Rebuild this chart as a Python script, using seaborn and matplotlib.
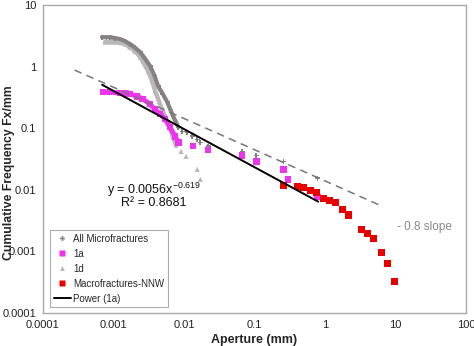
import matplotlib
matplotlib.use("Agg")
import matplotlib.pyplot as plt
import seaborn as sns
import numpy as np
import pandas as pd
from matplotlib.lines import Line2D
from matplotlib.ticker import FuncFormatter, LogLocator, NullFormatter

# ---- data ----
all_x = [0.00069, 0.0008, 0.0009, 0.00105, 0.00124, 0.00145, 0.00172, 0.002, 0.00239, 0.0028,
         0.00331, 0.0038, 0.0043, 0.005, 0.0058, 0.0064, 0.0070, 0.0077, 0.0083,
         0.0094, 0.0111, 0.0131, 0.0154, 0.017, 0.022, 0.067, 0.106, 0.257, 0.78]
all_y = [3.0, 3.0, 3.0, 2.9, 2.8, 2.6, 2.32, 2.05, 1.72, 1.35,
         1.02, 0.72, 0.48, 0.36, 0.265, 0.2, 0.157, 0.125, 0.104,
         0.089, 0.086, 0.074, 0.066, 0.059, 0.051, 0.042, 0.036, 0.029, 0.0154]

d_x = [0.00076, 0.0009, 0.00105, 0.00124, 0.0015, 0.0017, 0.002, 0.0024, 0.0031, 0.0035,
       0.0039, 0.0049, 0.006, 0.007, 0.0077, 0.0091, 0.0107, 0.0154, 0.017]
d_y = [2.5, 2.5, 2.5, 2.45, 2.3, 2.07, 1.8, 1.43, 0.85, 0.6,
       0.40, 0.20, 0.116, 0.071, 0.053, 0.042, 0.035, 0.0215, 0.0148]

a_x = [0.00071, 0.00089, 0.00124, 0.0015, 0.0017, 0.00216, 0.0026, 0.0033, 0.0039, 0.0046,
       0.0054, 0.0063, 0.0075, 0.0083, 0.0135, 0.022, 0.067, 0.106, 0.257, 0.3, 0.78]
a_y = [0.385, 0.385, 0.37, 0.365, 0.36, 0.33, 0.30, 0.245, 0.20, 0.17,
       0.14, 0.105, 0.074, 0.059, 0.051, 0.044, 0.036, 0.029, 0.0215, 0.0148, 0.0076]

r_x = [0.257, 0.405, 0.49, 0.62, 0.755, 0.95, 1.16, 1.41, 1.77, 2.15,
       3.29, 4.0, 4.87, 6.3, 7.7, 9.7]
r_y = [0.0118, 0.0114, 0.011, 0.0098, 0.0091, 0.0073, 0.0068, 0.0063, 0.0048, 0.0039,
       0.0023, 0.00196, 0.00162, 0.00096, 0.00064, 0.00033]

fit_a = 0.0056
fit_b = -0.619
fit_x = [0.00069, 0.8]

slope_x = [0.00028, 6.5]
slope_y = [0.88, 0.0054]

x_ticks = [0.0001, 0.001, 0.01, 0.1, 1, 10, 100]
y_ticks = [0.0001, 0.001, 0.01, 0.1, 1, 10]

# ---- style ----
sns.set_style("white")
plt.rcParams["font.family"] = ["Liberation Sans", "DejaVu Sans"]
plt.rcParams["mathtext.default"] = "regular"

fig = plt.figure(figsize=(4.74, 3.46), dpi=100)
ax = fig.add_axes([0.0907, 0.0954, 0.8924, 0.8901])

c_all = "#868282"
c_d = "#b8b8b8"
c_a = "#ee33ee"
c_r = "#e80000"

df_all = pd.DataFrame({"x": all_x, "y": all_y})
df_d = pd.DataFrame({"x": d_x, "y": d_y})
df_a = pd.DataFrame({"x": a_x, "y": a_y})
df_r = pd.DataFrame({"x": r_x, "y": r_y})

n_dense_all = 19
n_dense_d = 15
n_dense_a = 14

# dense portions look like thick curves
sns.lineplot(data=df_d.iloc[:n_dense_d], x="x", y="y", ax=ax, color=c_d, lw=3.2, sort=False, zorder=2)
sns.lineplot(data=df_all.iloc[:n_dense_all], x="x", y="y", ax=ax, color=c_all, lw=3.0, sort=False, zorder=3)
sns.lineplot(data=df_a.iloc[:n_dense_a], x="x", y="y", ax=ax, color=c_a, lw=3.5, sort=False, zorder=4)

sns.scatterplot(data=df_d, x="x", y="y", ax=ax, marker="^", s=14, color=c_d, edgecolor="none", zorder=2)
sns.scatterplot(data=df_all, x="x", y="y", ax=ax, marker="P", s=12, color=c_all, edgecolor="none", zorder=3)
sns.scatterplot(data=df_a, x="x", y="y", ax=ax, marker="s", s=22, color=c_a, edgecolor="none", zorder=4)
sns.scatterplot(data=df_r, x="x", y="y", ax=ax, marker="s", s=26, color=c_r, edgecolor="none", zorder=5)

# power fit line
fx = np.array(fit_x)
ax.plot(fx, fit_a * fx ** fit_b, color="black", lw=1.4, zorder=6)
# slope reference line
ax.plot(slope_x, slope_y, color="#777777", lw=1.1, ls=(0, (5, 3.5)), zorder=6)

ax.set_xscale("log")
ax.set_yscale("log")
ax.set_xlim(0.0001, 100)
ax.set_ylim(0.0001, 10)
ax.set_xticks(x_ticks)
ax.set_yticks(y_ticks)
fmt = FuncFormatter(lambda v, p: "{:g}".format(v))
ax.xaxis.set_major_formatter(fmt)
ax.yaxis.set_major_formatter(fmt)
ax.xaxis.set_minor_locator(LogLocator(base=10, subs=np.arange(2, 10)))
ax.yaxis.set_minor_locator(LogLocator(base=10, subs=np.arange(2, 10)))
ax.xaxis.set_minor_formatter(NullFormatter())
ax.yaxis.set_minor_formatter(NullFormatter())
ax.tick_params(which="major", direction="out", length=3, width=0.8, color="#999999",
               labelsize=8, labelcolor="#222222", pad=2)
ax.tick_params(which="minor", direction="in", length=2.5, width=0.6, color="#999999")
for s in ax.spines.values():
    s.set_color("#aaaaaa")
    s.set_linewidth(1.0)

ax.set_xlabel("Aperture (mm)", fontsize=9, fontweight="bold", labelpad=3)
ax.set_ylabel("Cumulative Frequency Fx/mm", fontsize=8.8, fontweight="bold")
ax.yaxis.label.set_va("center")
ax.yaxis.set_label_coords(-0.0795, 0.455)

ax.text(0.0037, 0.0098, "y = 0.0056x$^{-0.619}$", fontsize=9, ha="center", va="center", color="#111111")
ax.text(0.0037, 0.006, "R² = 0.8681", fontsize=9, ha="center", va="center", color="#111111")
ax.text(10.5, 0.0025, "- 0.8 slope", fontsize=8.5, ha="left", va="center", color="#888888")

handles = [
    Line2D([], [], ls="none", marker="P", ms=3.5, color=c_all, mec="none"),
    Line2D([], [], ls="none", marker="s", ms=4, color=c_a, mec="none"),
    Line2D([], [], ls="none", marker="^", ms=3.5, color=c_d, mec="none"),
    Line2D([], [], ls="none", marker="s", ms=4, color=c_r, mec="none"),
    Line2D([], [], color="black", lw=1.4),
]
labels = ["All Microfractures", "1a", "1d", "Macrofractures-NNW", "Power (1a)"]
leg = ax.legend(handles, labels, loc="lower left", bbox_to_anchor=(0.017, 0.019),
                fontsize=7, frameon=True, fancybox=False, edgecolor="#999999",
                handlelength=1.75, handletextpad=0.25, labelspacing=0.52, borderpad=0.35,
                borderaxespad=0)
leg.get_frame().set_linewidth(0.8)

fig.savefig("out.png", dpi=100)
